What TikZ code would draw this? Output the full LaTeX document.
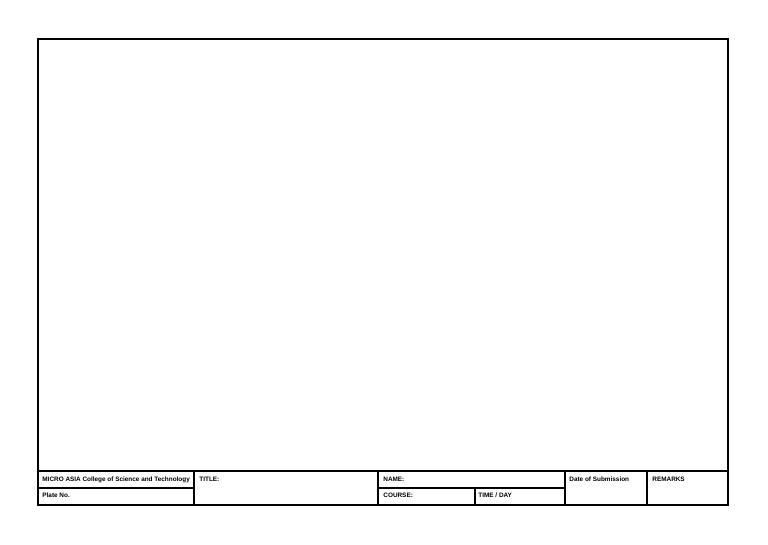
\documentclass[tikz,border=0pt]{standalone}
\usepackage{fontspec}
\setmainfont{Liberation Sans}
\usetikzlibrary{positioning}

\begin{document}
\begin{tikzpicture}[x=1pt,y=-1pt, thick, every node/.style={font=\bfseries\fontsize{6.4}{7}\selectfont, anchor=west, inner sep=0pt}]
\useasboundingbox (0,0) rectangle (768,544);
\draw[line width=2pt] (38,39) rectangle (728,505);
\draw[line width=2pt] (38,471) -- (728,471);
\draw[line width=1.6pt] (38,488) -- (194,488);
\draw[line width=1.6pt] (194,471) -- (194,505);
\draw[line width=1.6pt] (378,471) -- (378,505);
\draw[line width=1.6pt] (378,488) -- (565,488);
\draw[line width=1.6pt] (475,488) -- (475,505);
\draw[line width=1.6pt] (565,471) -- (565,505);
\draw[line width=1.6pt] (647,471) -- (647,505);

\node (school) at (42,479.5) {MICRO ASIA College of Science and Technology};
\node (plate) at (42,495) {Plate No.};
\node (title) at (199,479.5) {TITLE:};
\node (name) at (383,479.5) {NAME:};
\node (course) at (383,495) {COURSE:};
\node (time) at (478,495) {TIME / DAY};
\node (date) at (569,479.5) {Date of Submission};
\node (remarks) at (652,479.5) {REMARKS};
\end{tikzpicture}
\end{document}
